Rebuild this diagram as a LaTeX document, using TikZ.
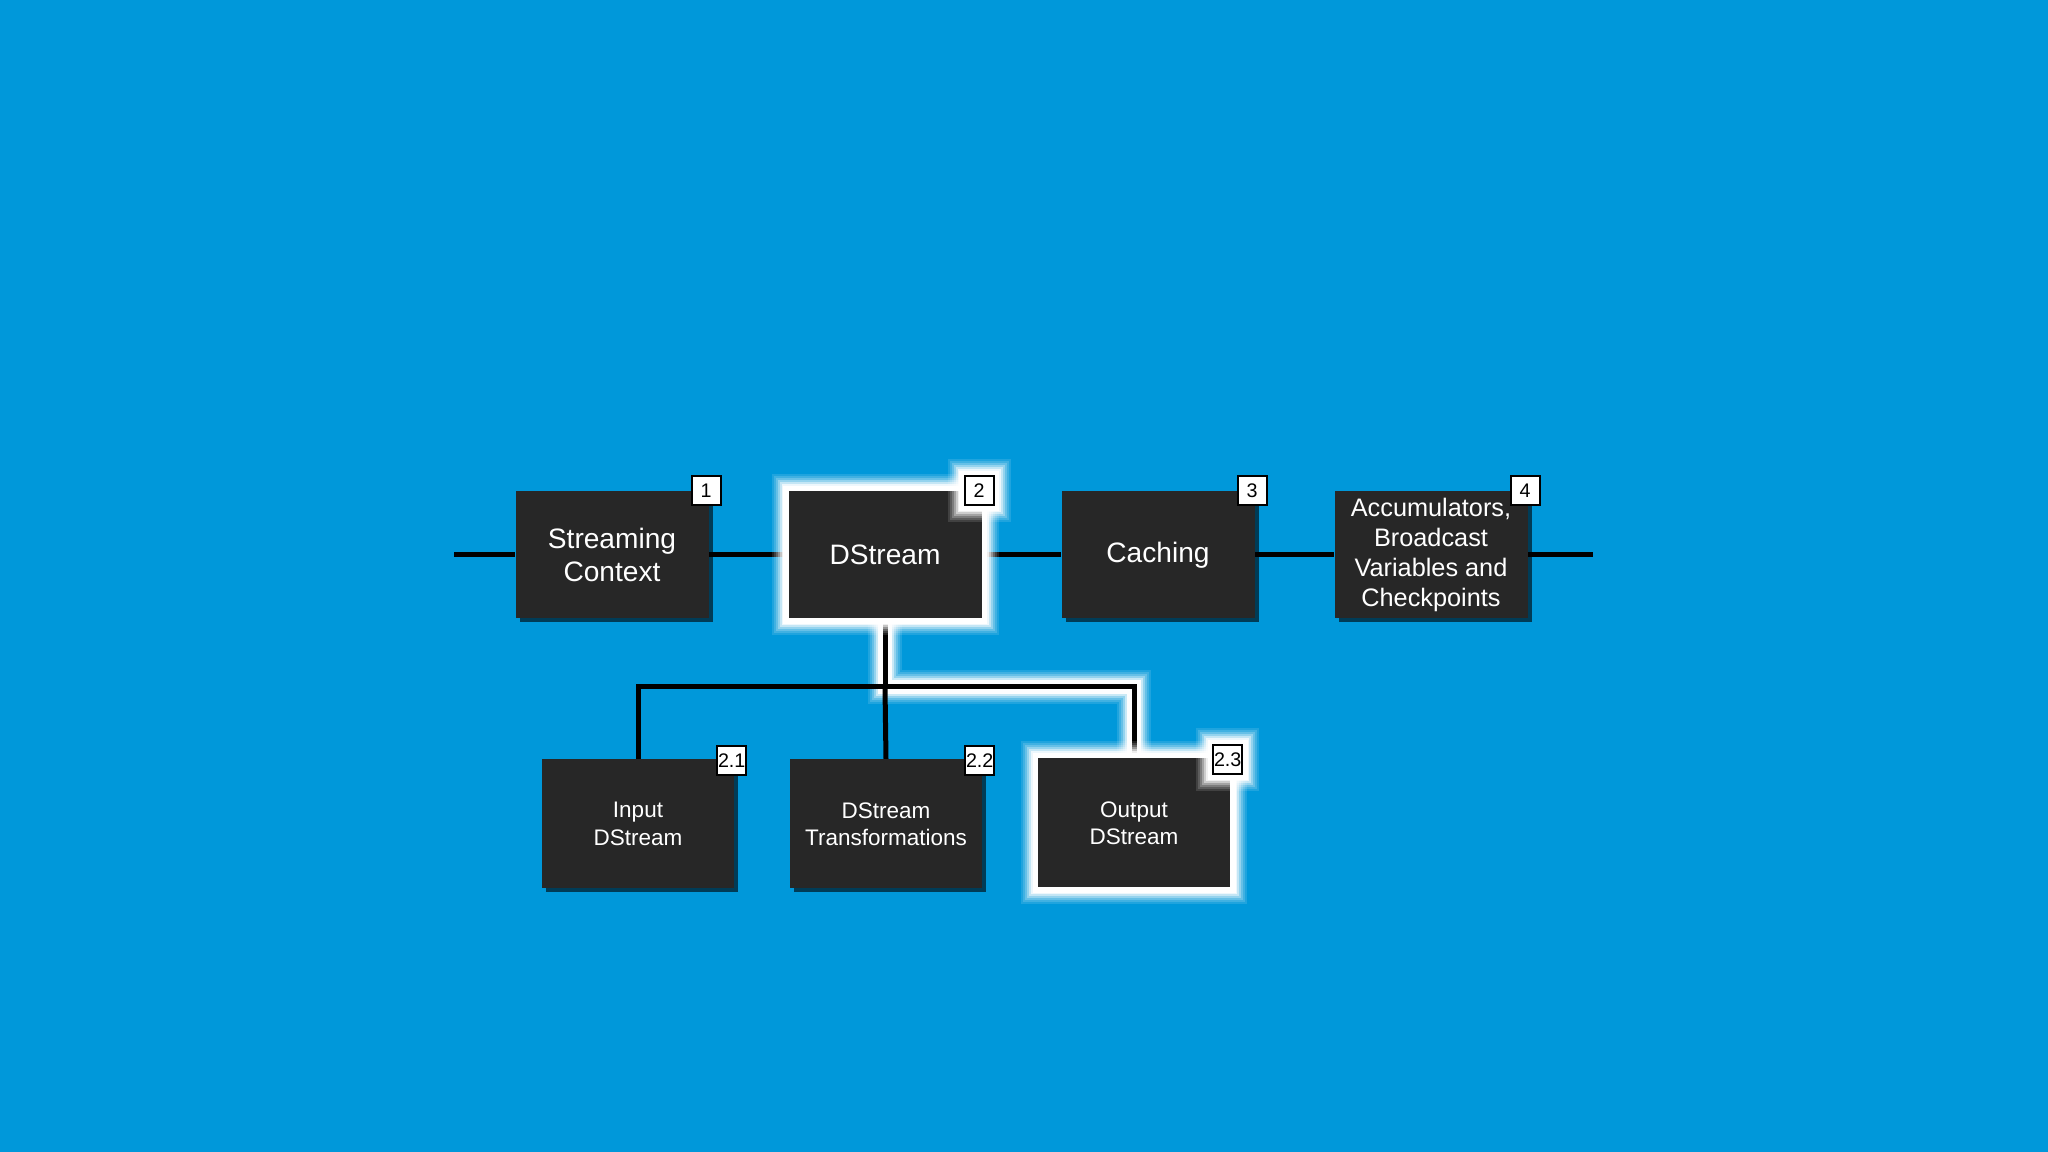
\documentclass[tikz,border=0pt]{standalone}
\usepackage{fontspec}
\setmainfont{Liberation Sans}
\usetikzlibrary{positioning,shadows,backgrounds}

\definecolor{skyblue}{HTML}{0098DA}
\definecolor{boxgray}{HTML}{272727}

\tikzset{
  module/.style={fill=boxgray, text=white, minimum width=1.93cm, minimum height=1.27cm,
    align=center, inner sep=1pt, font=\fontsize{8}{9.6}\selectfont},
  shadowed/.style={drop shadow={shadow xshift=0.04cm, shadow yshift=-0.04cm, fill=black, opacity=0.6}},
  submodule/.style={module, minimum height=1.29cm, minimum width=1.92cm, font=\fontsize{6.4}{7.8}\selectfont},
  badge/.style={draw=black, fill=white, line width=0.6pt, minimum size=0.29cm, inner sep=0pt,
    font=\fontsize{5.6}{6}\selectfont},
  bus/.style={line width=0.05cm, black},
  glow/.style={preaction={draw=white, line width=0.34cm, opacity=0.12},
    preaction={draw=white, line width=0.30cm, opacity=0.15},
    preaction={draw=white, line width=0.26cm, opacity=0.2},
    preaction={draw=white, line width=0.22cm, opacity=0.3},
    preaction={draw=white, line width=0.18cm, opacity=0.45},
    preaction={draw=white, line width=0.14cm, opacity=0.7},
    preaction={draw=white, line width=0.11cm}},
  wireglow/.style={preaction={draw=white, line width=0.34cm, opacity=0.12},
    preaction={draw=white, line width=0.30cm, opacity=0.15},
    preaction={draw=white, line width=0.26cm, opacity=0.2},
    preaction={draw=white, line width=0.22cm, opacity=0.3},
    preaction={draw=white, line width=0.18cm, opacity=0.5},
    preaction={draw=white, line width=0.14cm, opacity=0.95}},
}

\begin{document}
\begin{tikzpicture}
  \begin{pgfonlayer}{background}
    \fill[skyblue] (0,0) rectangle (20.48,11.52);
  \end{pgfonlayer}

  % top row
  \node[module, shadowed] (stream) at (6.12,5.97) {Streaming\\Context};
  \node[module, glow] (dstream) at (8.85,5.97) {DStream};
  \node[module, shadowed] (caching) at (11.58,5.97) {Caching};
  \node[module, shadowed, font=\fontsize{7.2}{8.6}\selectfont] (accum) at (14.31,5.97)
    {Accumulators,\\Broadcast\\Variables and\\Checkpoints};

  \node[badge] (b1) at ([xshift=-0.03cm]stream.north east) {1};
  \node[badge, glow] (b2) at ([xshift=-0.03cm]dstream.north east) {2};
  \node[badge] (b3) at ([xshift=-0.03cm]caching.north east) {3};
  \node[badge] (b4) at ([xshift=-0.03cm]accum.north east) {4};

  % second level
  \node[submodule, shadowed] (inputds) at (6.38,3.28) {Input\\DStream};
  \node[submodule, shadowed] (transform) at (8.86,3.28) {DStream\\Transformations};
  \node[submodule, glow] (outputds) at (11.34,3.29) {Output\\DStream};

  \node[badge] (b21) at ([xshift=-0.03cm,yshift=-0.02cm]inputds.north east) {2.1};
  \node[badge] (b22) at ([xshift=-0.03cm,yshift=-0.02cm]transform.north east) {2.2};
  \node[badge, glow] (b23) at ([xshift=-0.03cm,yshift=-0.02cm]outputds.north east) {2.3};

  \coordinate (lineL) at (4.54,5.97);
  \coordinate (lineR) at (15.93,5.97);
  \coordinate (split) at (dstream.south |- 0,4.65);

  \begin{pgfonlayer}{background}
    \draw[bus] (lineL) -- (stream) -- (dstream) -- (caching) -- (accum) -- (lineR);
    % highlighted branch
    \path[wireglow] (dstream.south) -- (split) -| (outputds.north);
    \draw[bus] (dstream.south) -- (split);
    \draw[bus] (inputds.north) |- (split) -| (outputds.north);
    \draw[bus] (split) -- (transform.north);
  \end{pgfonlayer}
\end{tikzpicture}
\end{document}
